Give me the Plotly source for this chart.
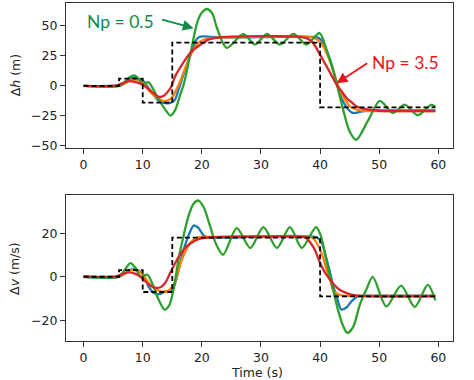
import plotly.graph_objects as go

# ---------------- data ----------------
ref_t = [0, 6, 10, 15, 40, 59.5]
ref_h = [0, 6, -14, 36, -18, -18]
ref_v = [0, 3, -7, 18, -9, -9]

# top panel (delta h)
h_blue_t = [0, 6, 7, 8.2, 9.5, 10.2, 11.0, 12.0, 12.7, 13.5, 14.4, 15.0, 15.5, 16.0, 16.6, 17.2, 17.8, 18.4, 18.9, 19.5, 20.3, 21.5, 23, 30, 39.3, 40.0, 40.5, 41.2, 42.0, 42.8, 43.6, 44.5, 45.5, 46.5, 47.5, 49, 52, 59.5]
h_blue = [0, 0, 2.5, 6.6, 5.5, 3.6, -2.0, -8.5, -12.5, -14.2, -14.5, -13.5, -11, -4, 5, 14, 22, 30, 37, 40.5, 41.2, 40.8, 40.5, 40.5, 40.5, 39, 35.8, 28, 17, 2.2, -10, -18, -22.5, -22, -21, -20.5, -20.5, -20.5]

h_orange_t = [0, 6, 7, 8.2, 9.5, 10.3, 11.0, 11.8, 12.7, 13.8, 14.9, 15.5, 16.1, 16.6, 17.2, 17.8, 18.3, 19.4, 20.5, 22, 25, 38.5, 39.5, 40.5, 41.3, 42.2, 43.3, 44.2, 45.0, 46, 47.5, 50, 59.5]
h_orange = [0, 0, 2, 5, 4.5, 1.5, -3.6, -7.5, -10.8, -12.8, -10, -5, 1.1, 7, 15, 22, 27.5, 35.8, 38.8, 40, 40.5, 40.5, 38.5, 33, 25, 13, -3.3, -11, -17, -19.5, -20.8, -21, -21]

h_green_t = [0, 6, 6.8, 7.6, 8.5, 9.3, 9.9, 10.5, 11.0, 11.8, 12.7, 13.7, 14.7, 15.5, 16.3, 17.0, 18.1, 19.2, 20.0, 20.9, 21.8, 22.5, 24.2, 27.0, 29.0, 31.0, 33.2, 35.5, 37.7, 39.9, 41.1, 42.5, 43.9, 45.0, 46.1, 48.1, 50.1, 52.3, 54.3, 56.5, 58.8, 59.5]
h_green = [0, 0, 2.5, 6.5, 8.6, 6, 1.5, 2.5, 3.0, -3, -11.4, -19, -24.7, -20, -8, 2.5, 27.5, 52.5, 61, 64, 60, 49, 31.7, 43, 34.4, 43.3, 34.4, 43.3, 34.4, 44, 30, 7.8, -20, -38, -45, -29, -12.5, -22.6, -15.6, -24.5, -15.8, -17.5]

h_red_t = [0, 5.5, 6.5, 7.6, 8.8, 9.9, 10.8, 11.6, 12.3, 12.9, 13.5, 14.1, 14.8, 15.5, 16.3, 17.2, 18.3, 19.4, 20.3, 21.1, 22.2, 23.4, 25, 36, 37.7, 38.8, 40.0, 41.0, 41.8, 42.8, 43.7, 44.5, 45.4, 46.2, 47.3, 48.5, 50, 59.5]
h_red = [0, 0.3, 2, 3.9, 3, 1.1, -2, -5.3, -8, -9.3, -8.5, -5.8, -1, 8.1, 15, 21.9, 28.9, 33, 36, 38.5, 39.8, 40.5, 41, 41, 39.7, 35.8, 25.8, 17, 10, 0.8, -5, -10.3, -14, -17.2, -19, -20, -20.8, -21]

# bottom panel (delta v)
v_blue_t = [0, 6, 7, 8, 9.2, 10.2, 11.0, 11.9, 12.8, 13.8, 14.6, 15.2, 15.8, 16.4, 17.1, 17.8, 18.6, 19.4, 20.3, 21.2, 22.5, 25, 39.5, 40.3, 41.0, 41.7, 42.3, 42.8, 43.6, 44.5, 45.3, 46.4, 48, 59.5]
v_blue = [0, 0, 1.5, 3.3, 3, 0.5, -4.5, -7.5, -8.0, -6.7, -6.5, -5, 0, 7, 14, 19.3, 23.5, 22.5, 19, 18, 18, 18, 18, 15.4, 9, 1.7, -5, -9, -15.1, -14, -11.3, -9, -8.7, -8.7]

v_orange_t = [0, 6, 7, 8, 9.3, 10.3, 11.2, 12.3, 13.3, 14.3, 15.0, 15.5, 16.0, 16.6, 17.2, 17.8, 18.5, 19.2, 20.5, 22, 38.3, 38.8, 39.4, 40.0, 40.6, 41.1, 41.7, 42.2, 42.9, 43.9, 45, 59.5]
v_orange = [0, 0, 1.5, 3, 2.5, 0, -3.5, -5.8, -6.8, -6.5, -4.5, -2.1, 2.5, 7.8, 11.5, 14.7, 16.8, 18, 18.3, 18.3, 18.3, 17.7, 15.5, 12.4, 8, 3.2, -1.5, -6, -7.8, -8.7, -8.8, -8.8]

v_green_t = [0, 6, 6.8, 7.9, 8.8, 9.6, 10.8, 11.6, 12.6, 13.7, 14.5, 15.2, 16.1, 17.0, 17.8, 18.6, 19.4, 20.3, 21.3, 22.4, 23.6, 25.9, 28.2, 30.4, 32.7, 34.9, 36.9, 39.3, 40.1, 40.8, 41.5, 42.2, 43.0, 43.8, 44.6, 45.6, 46.7, 47.8, 48.9, 51.2, 53.7, 56.0, 58.2, 59.5]
v_green = [0, 0, 2.5, 6.3, 4, 0.1, 0.9, -3, -10, -15.1, -13, -6, 8.6, 20, 28.4, 33.5, 35, 32, 24, 15, 10.1, 22.3, 13.2, 22.8, 13.2, 22.8, 13.2, 22.8, 19, 10.9, 2, -6, -15, -22, -25.8, -23, -13, -6, -0.1, -13.6, -4.1, -13.9, -3.7, -10.9]

v_red_t = [0, 5.5, 6.5, 7.6, 8.8, 9.9, 11.0, 12.1, 13.0, 13.8, 14.6, 15.5, 16.3, 17.2, 18.2, 19.2, 20.5, 22, 24, 37.0, 37.7, 38.4, 39.1, 40.0, 40.8, 41.7, 42.5, 43.3, 44.5, 45.5, 46.7, 48, 59.5]
v_red = [0, 0.2, 1.2, 2, 1.3, -0.6, -3.5, -5, -4.8, -2.9, 1.5, 6.3, 10, 13.3, 15.5, 17, 17.8, 18.2, 18.3, 18.3, 17.7, 15.5, 12.4, 6.3, 2, -1.4, -4, -6, -7.5, -8.3, -8.8, -9, -9]

x_ticks = [0, 10, 20, 30, 40, 50, 60]
h_ticks = [-50, -25, 0, 25, 50]
v_ticks = [-20, 0, 20]

C_BLUE, C_ORANGE, C_GREEN, C_RED = "#1f77b4", "#ff7f0e", "#2ca02c", "#d62728"
LW = 2.3

fig = go.Figure()

def add(t, y, color, xa, ya):
    fig.add_trace(go.Scatter(x=t, y=y, mode="lines", xaxis=xa, yaxis=ya,
                             line=dict(color=color, width=LW, shape="spline", smoothing=0.8),
                             showlegend=False, hoverinfo="skip"))

add(h_blue_t, h_blue, C_BLUE, "x", "y")
add(h_orange_t, h_orange, C_ORANGE, "x", "y")
add(h_green_t, h_green, C_GREEN, "x", "y")
add(h_red_t, h_red, C_RED, "x", "y")
fig.add_trace(go.Scatter(x=ref_t, y=ref_h, mode="lines", xaxis="x", yaxis="y",
                         line=dict(color="black", width=1.8, shape="hv", dash="5px,3px"),
                         showlegend=False, hoverinfo="skip"))

add(v_blue_t, v_blue, C_BLUE, "x2", "y2")
add(v_orange_t, v_orange, C_ORANGE, "x2", "y2")
add(v_green_t, v_green, C_GREEN, "x2", "y2")
add(v_red_t, v_red, C_RED, "x2", "y2")
fig.add_trace(go.Scatter(x=ref_t, y=ref_v, mode="lines", xaxis="x2", yaxis="y2",
                         line=dict(color="black", width=1.8, shape="hv", dash="5px,3px"),
                         showlegend=False, hoverinfo="skip"))

tickfont = dict(family="DejaVu Sans", size=12.5, color="#222")
axis_common = dict(showgrid=False, zeroline=False, showline=True, mirror=True,
                   linecolor="#333", linewidth=1.1, ticks="outside", ticklen=5,
                   tickwidth=1.1, tickcolor="#333", tickfont=tickfont, automargin=False)

fig.update_layout(
    width=474, height=380,
    margin=dict(l=66, r=21, t=3, b=39),
    plot_bgcolor="white", paper_bgcolor="white",
    xaxis=dict(domain=[0, 1], anchor="y", range=[-2.975, 62.475], tickvals=x_ticks, **axis_common),
    yaxis=dict(domain=[0.572, 1], anchor="x", range=[-51.5, 69], tickvals=h_ticks, **axis_common),
    xaxis2=dict(domain=[0, 1], anchor="y2", range=[-2.975, 62.475], tickvals=x_ticks, **axis_common),
    yaxis2=dict(domain=[0, 0.433], anchor="x2", range=[-29.5, 37.7], tickvals=v_ticks, **axis_common),
)

title_font = dict(family="DejaVu Sans", size=12.5, color="#222")
fig.add_annotation(text="Δ<i>h</i> (m)", xref="paper", yref="paper", x=-0.132, y=0.786,
                   textangle=-90, showarrow=False, xanchor="center", yanchor="middle", font=title_font)
fig.add_annotation(text="Δ<i>v</i> (m/s)", xref="paper", yref="paper", x=-0.132, y=0.216,
                   textangle=-90, showarrow=False, xanchor="center", yanchor="middle", font=title_font)
fig.add_annotation(text="Time (s)", xref="paper", yref="paper", x=0.494, y=-0.092,
                   showarrow=False, xanchor="center", yanchor="middle", font=title_font)

fig.add_annotation(x=18.6, y=48, xref="x", yref="y", ax=-33, ay=-9, axref="pixel", ayref="pixel",
                   text="", showarrow=True, arrowhead=2, arrowsize=1.2, arrowwidth=1.8, arrowcolor="#118a4a")
fig.add_annotation(x=6.3, y=54, xref="x", yref="y", text="Np = 0.5", showarrow=False,
                   xanchor="center", yanchor="middle",
                   font=dict(family="Lato", size=17.5, color="#118a4a"))
fig.add_annotation(x=42.8, y=2.2, xref="x", yref="y", ax=32, ay=-21, axref="pixel", ayref="pixel",
                   text="", showarrow=True, arrowhead=2, arrowsize=1.2, arrowwidth=1.8, arrowcolor="#e8141c")
fig.add_annotation(x=54.4, y=19.8, xref="x", yref="y", text="Np = 3.5", showarrow=False,
                   xanchor="center", yanchor="middle",
                   font=dict(family="Lato", size=17.5, color="#e8141c"))

fig.write_html("out.html", config={"displayModeBar": False},
               post_script="document.body.style.margin='0';document.body.style.overflow='hidden';")
